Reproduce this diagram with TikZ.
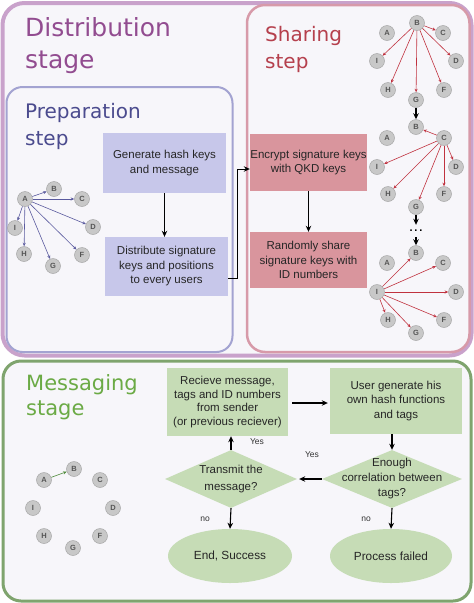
\documentclass[tikz,border=0pt]{standalone}
\usepackage{fontspec}
\setmainfont{Liberation Sans}
\newfontfamily\titlefont{DejaVu Sans}
\usetikzlibrary{arrows.meta,shapes.geometric}
\definecolor{distB}{HTML}{C9A2CB}
\definecolor{distT}{HTML}{924C90}
\definecolor{prepB}{HTML}{A3A3D1}
\definecolor{prepT}{HTML}{4B4B8E}
\definecolor{prepF}{HTML}{C7C7EA}
\definecolor{shB}{HTML}{D79AA9}
\definecolor{shT}{HTML}{B5404D}
\definecolor{shF}{HTML}{D9959D}
\definecolor{msB}{HTML}{7FA46E}
\definecolor{msT}{HTML}{6BAA45}
\definecolor{msF}{HTML}{C6DCB6}
\definecolor{bgF}{HTML}{F7F6FA}
\definecolor{nodeF}{HTML}{C8C8C8}
\definecolor{nodeB}{HTML}{A8A8A8}
\definecolor{nodeT}{HTML}{555555}
\definecolor{prepE}{HTML}{5A5A9E}
\definecolor{shE}{HTML}{C0323F}
\definecolor{msE}{HTML}{4E8A3A}
\tikzset{
  frame/.style={fill=bgF, rounded corners=18pt},
  ttl/.style={anchor=north west, inner sep=0pt, align=left},
  box/.style={rectangle, inner sep=0pt, align=center, text=black!85,
    font=\fontsize{11.5}{14.5}\selectfont},
  gn/.style={circle, fill=nodeF, draw=nodeB, line width=0.5pt, minimum size=15pt,
    inner sep=0pt, text=nodeT, font=\bfseries\fontsize{7.5}{8}\selectfont},
  gedge/.style={line width=0.6pt, -{Stealth[length=3.5pt,width=3pt]}},
  flow/.style={draw=black, line width=1.1pt, -{Stealth[length=6pt,width=5.5pt]}},
  lbl/.style={inner sep=0pt, font=\fontsize{8.5}{10}\selectfont, text=black!80},
}
\begin{document}
\begin{tikzpicture}[x=1pt,y=-1pt]
\useasboundingbox (0,0) rectangle (474,603);
\fill[white] (0,0) rectangle (474,603);
% frames
\draw[frame, draw=distB, line width=4pt, rounded corners=22pt] (2.5,3) rectangle (471.5,355.5);
\draw[frame, draw=prepB, line width=2pt, rounded corners=16pt] (6.5,87) rectangle (232.5,352);
\draw[frame, draw=shB, line width=2.5pt, rounded corners=18pt] (247,5) rectangle (469.5,352);
\draw[frame, draw=msB, line width=3pt] (3,361) rectangle (471,601);
% titles
\node[ttl, text=distT, font=\titlefont\fontsize{25}{32}\selectfont] (tdist) at (25,17) {Distribution\\stage};
\node[ttl, text=prepT, font=\titlefont\fontsize{20}{27}\selectfont] (tprep) at (25,103) {Preparation\\step};
\node[ttl, text=shT, font=\titlefont\fontsize{20}{27}\selectfont] (tsh) at (265,26) {Sharing\\step};
\node[ttl, text=msT, font=\titlefont\fontsize{21}{25}\selectfont] (tms) at (26,374) {Messaging\\stage};
% preparation boxes
\node[box, fill=prepF, minimum width=123pt, minimum height=60pt] (gen) at (164.5,163) {Generate hash keys\\and message};
\node[box, fill=prepF, minimum width=123pt, minimum height=59pt] (dist) at (166.5,266.5) {Distribute signature\\keys and positions\\to every users};
\draw[flow] (gen) -- (gen |- dist.north);
% sharing boxes
\node[box, fill=shF, minimum width=117pt, minimum height=57pt] (enc) at (308.5,162.5) {Encrypt signature keys\\with QKD keys};
\node[box, fill=shF, minimum width=117pt, minimum height=56pt] (rand) at (308.5,260) {Randomly share\\signature keys with\\ID numbers};
\draw[flow] (enc) -- (rand);
\coordinate (j1) at (237,278);
\coordinate (j2) at (237,169);
\draw[line width=0.9pt, -{Stealth[length=6pt,width=5.5pt]}] (dist.east |- j1) -- (j1) -- (j2) -- (enc.west |- j2);
% preparation graph
\foreach \n/\x/\y in {A/25/199,B/54/189,C/82/199,I/15/228,D/93/227,H/24/254,F/82/255,G/53/266}
  \node[gn] (p\n) at (\x,\y) {\n};
\foreach \t in {B,C,D,F,G,H,I}
  \draw[gedge, prepE] (pA) -- (p\t);
% sharing graphs
\foreach \n/\x/\y in {B/417/23,A/387/33,C/443/33,I/377/61,D/456/61,H/388/90,F/444/90,G/416/100}
  \node[gn] (s1\n) at (\x,\y) {\n};
\foreach \t in {C,D,F,G,H,I}
  \draw[gedge, shE] (s1B) -- (s1\t);
\foreach \n/\x/\y in {B/416/127,A/387/138,C/444/138,I/377/167,D/456/167,H/388/194,F/444/194,G/416/207}
  \node[gn] (s2\n) at (\x,\y) {\n};
\foreach \t in {B,D,F,G,H,I}
  \draw[gedge, shE] (s2C) -- (s2\t);
\foreach \n/\x/\y in {B/416/253,A/387/263,C/443/263,I/377/292,D/456/292,H/388/320,F/444/320,G/416/333}
  \node[gn] (s3\n) at (\x,\y) {\n};
\foreach \t in {B,C,D,F,G,H}
  \draw[gedge, shE] (s3I) -- (s3\t);
\draw[flow] (s1G) -- (s2B);
\node[inner sep=0pt, minimum height=12pt, font=\bfseries\fontsize{11}{11}\selectfont] (dots) at (416,231) {.\,.\,.};
\draw[flow] (s2G) -- (dots.north);
\draw[flow] (dots.south) -- (s3B);
% messaging graph
\foreach \n/\x/\y in {A/44/480,B/74/469,C/100/480,I/33/508,D/113/508,H/44/536,F/100/536,G/73/548}
  \node[gn] (m\n) at (\x,\y) {\n};
\draw[gedge, msE] (mA) -- (mB);
% messaging flow
\node[box, fill=msF, minimum width=121pt, minimum height=68pt, font=\fontsize{11.5}{13.5}\selectfont] (rec) at (227.5,402) {Recieve message,\\tags and ID numbers\\from sender\\(or previous reciever)};
\node[box, fill=msF, minimum width=132pt, minimum height=66pt, font=\fontsize{11.5}{14.5}\selectfont] (user) at (396,401) {User generate his\\own hash functions\\and tags};
\node[diamond, fill=msF, inner sep=0pt, minimum width=140pt, minimum height=58pt,
  label={[box, font=\fontsize{11.5}{15}\selectfont]center:{Enough\\correlation between\\tags?}}] (enough) at (392,479) {};
\node[diamond, fill=msF, inner sep=0pt, minimum width=132pt, minimum height=58pt,
  label={[box, font=\fontsize{11.5}{17}\selectfont]center:{Transmit the\\message?}}] (trans) at (231,479) {};
\node[ellipse, fill=msF, inner sep=0pt, minimum width=124pt, minimum height=54pt, font=\fontsize{11.8}{14}\selectfont, text=black!85] (succ) at (230,556) {End, Success};
\node[ellipse, fill=msF, inner sep=0pt, minimum width=122pt, minimum height=54pt, font=\fontsize{11.8}{14}\selectfont, text=black!85] (fail) at (391,556) {Process failed};
\draw[flow, shorten <=4pt, shorten >=2pt] (rec.east |- 0,403) -- (user.west |- 0,403);
\draw[flow] (user.south -| enough.north) -- (enough.north);
\draw[flow, shorten >=2pt] (enough.west) -- (trans.east);
\draw[flow] (trans.north) -- (rec.south -| trans.north);
\draw[flow] (trans.south) -- (succ.north);
\draw[flow] (enough.south) -- (fail.north);
\node[lbl] (yes1) at (257,442) {Yes};
\node[lbl] (yes2) at (312,455) {Yes};
\node[lbl] (no1) at (205,519) {no};
\node[lbl] (no2) at (366,519) {no};
\end{tikzpicture}
\end{document}
